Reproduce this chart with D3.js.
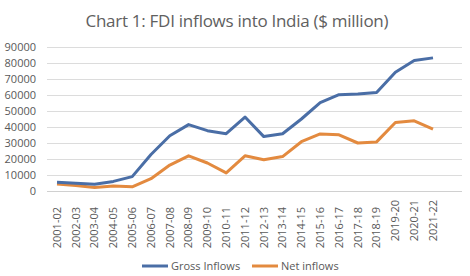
<!DOCTYPE html>
<html>
<head>
<meta charset="utf-8">
<script src="https://cdn.jsdelivr.net/npm/d3@7"></script>
<style>
  body { margin: 0; background: #fff; }
  text { font-family: "Open Sans", "Noto Sans", sans-serif; fill: #595959; }
</style>
</head>
<body>
<script>
var years = ['2001-02', '2002-03', '2003-04', '2004-05', '2005-06', '2006-07', '2007-08',
  '2008-09', '2009-10', '2010-11', '2011-12', '2012-13', '2013-14', '2014-15', '2015-16',
  '2016-17', '2017-18', '2018-19', '2019-20', '2020-21', '2021-22'];
var grossInflows = [5400, 4800, 4200, 6000, 9000, 22800, 34500, 41500, 37700, 35800, 46200,
  34000, 35800, 45000, 55300, 60200, 60600, 61500, 74200, 81500, 83200];
var netInflows = [4400, 3500, 2200, 3100, 2600, 7700, 16200, 22000, 17500, 11300, 22000,
  19500, 21500, 30800, 35700, 35100, 30000, 30700, 42800, 43900, 38700];
var yTicks = [0, 10000, 20000, 30000, 40000, 50000, 60000, 70000, 80000, 90000];

var W = 470, H = 276;
var COLOR_GROSS = '#4a6ea6';
var COLOR_NET = '#e38a3f';

var svg = d3.select('body').append('svg')
    .attr('width', W)
    .attr('height', H);

svg.append('rect').attr('width', W).attr('height', H).attr('fill', '#fff');

// title
svg.append('text')
    .attr('x', 237).attr('y', 27)
    .attr('text-anchor', 'middle')
    .attr('textLength', 303)
    .style('font-size', '17px')
    .style('fill', '#606060')
    .text('Chart 1: FDI inflows into India ($ million)');

var y = d3.scaleLinear().domain([0, 90000]).range([191, 47]);
var x = d3.scalePoint().domain(years).range([57, 433]);

// gridlines
svg.append('g').selectAll('line')
    .data(yTicks)
    .enter().append('line')
    .attr('x1', 47).attr('x2', 462)
    .attr('y1', function (d) { return y(d) + 0.5; })
    .attr('y2', function (d) { return y(d) + 0.5; })
    .attr('stroke', function (d) { return d == 0 ? '#d0d0d0' : '#dcdcdc'; })
    .attr('stroke-width', 1);

// y labels
var yAxis = svg.append('g')
    .attr('transform', 'translate(36,0)')
    .call(d3.axisLeft(y).tickValues(yTicks).tickSize(0).tickPadding(0).tickFormat(d3.format('d')));
yAxis.select('.domain').remove();
yAxis.selectAll('text').style('font-size', '11px').attr('fill', '#595959');

// x labels (last three sit a little higher in the original)
svg.append('g').selectAll('text')
    .data(years)
    .enter().append('text')
    .attr('transform', function (d, i) {
        var top = i >= 18 ? 200 : 207;
        return 'translate(' + x(d) + ',' + top + ') rotate(-90)';
    })
    .attr('dy', '0.35em')
    .attr('text-anchor', 'end')
    .style('font-size', '11px')
    .text(function (d) { return d; });

var line = d3.line()
    .x(function (d, i) { return x(years[i]); })
    .y(function (d) { return y(d); });

svg.append('path')
    .datum(netInflows)
    .attr('d', line)
    .attr('fill', 'none')
    .attr('stroke', COLOR_NET)
    .attr('stroke-width', 3)
    .attr('stroke-linejoin', 'round');

svg.append('path')
    .datum(grossInflows)
    .attr('d', line)
    .attr('fill', 'none')
    .attr('stroke', COLOR_GROSS)
    .attr('stroke-width', 3)
    .attr('stroke-linejoin', 'round');

// legend
var legend = [
  { name: 'Gross Inflows', color: COLOR_GROSS, x: 142 },
  { name: 'Net inflows', color: COLOR_NET, x: 252 }
];
var lg = svg.append('g').selectAll('g')
    .data(legend)
    .enter().append('g')
    .attr('transform', function (d) { return 'translate(' + d.x + ',266)'; });
lg.append('line')
    .attr('x1', 0).attr('x2', 26)
    .attr('stroke', function (d) { return d.color; })
    .attr('stroke-width', 3);
lg.append('text')
    .attr('x', 29).attr('dy', '0.35em')
    .style('font-size', '11px')
    .text(function (d) { return d.name; });
</script>
</body>
</html>
